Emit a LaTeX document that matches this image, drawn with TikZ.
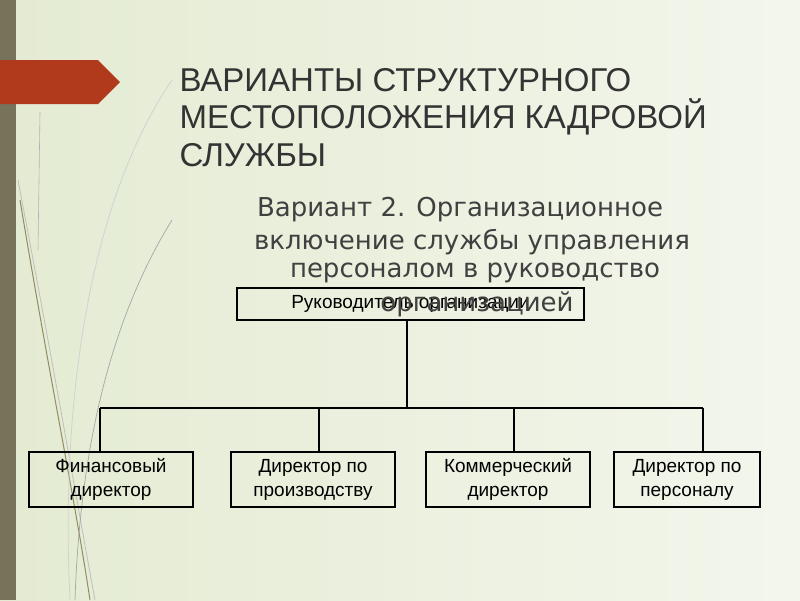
\documentclass[tikz,border=0pt]{standalone}
\usepackage{fontspec}
\setmainfont{Liberation Sans}
\newfontfamily\djfont{DejaVu Sans}
\definecolor{bgl}{HTML}{E4EBD2}
\definecolor{bgr}{HTML}{F3F6EC}
\definecolor{arr}{HTML}{B23A1C}
\definecolor{bar}{HTML}{77735A}
\begin{document}
\begin{tikzpicture}[x=1pt,y=-1pt,
  bx/.style={draw=black,line width=1.5pt,align=center,inner sep=0pt,font=\fontsize{19}{24}\selectfont},
  ln/.style={line width=1.5pt},
  tl/.style={anchor=west,font=\fontsize{33}{37}\selectfont,text=black!80},
  st/.style={font=\djfont\fontsize{26}{30}\selectfont,text=black!75}]
\useasboundingbox (0,0) rectangle (800,600);
\shade[left color=bgl, right color=bgr] (0,0) rectangle (800,600);
\fill[bar] (0,0) rectangle (16,600);
\fill[arr] (0,60) -- (98,60) -- (120,82) -- (98,104) -- (0,104) -- cycle;
\draw[gray!50,line width=0.8pt] (18,180) .. controls (60,400) and (80,520) .. (95,600);
\draw[gray!70!olive,line width=1pt] (20,200) .. controls (50,380) and (75,500) .. (90,600);
\draw[gray!35,line width=0.8pt] (172,80) .. controls (90,200) and (60,400) .. (70,600);
\draw[gray!70,line width=0.7pt] (172,220) .. controls (110,320) and (80,450) .. (75,600);
\draw[gray!60,line width=0.6pt] (40,112) -- (38,250);
\node[tl] (t1) at (176,80) {ВАРИАНТЫ СТРУКТУРНОГО};
\node[tl] (t2) at (176,117) {МЕСТОПОЛОЖЕНИЯ КАДРОВОЙ};
\node[tl] (t3) at (176,155) {СЛУЖБЫ};
\node[bx,minimum width=347pt,minimum height=32pt] (top) at (410.5,304) {Руководитель организации};
\node[st] (s1) at (460,210) {Вариант 2. Организационное};
\node[st] (s2) at (472,242) {включение службы управления};
\node[st] (s3) at (475,273) {персоналом в руководство};
\node[st] (s4) at (477,304) {организацией};
\node[bx,minimum width=164pt,minimum height=55pt] (b1) at (111,479.5) {Финансовый\\директор};
\node[bx,minimum width=164pt,minimum height=55pt] (b2) at (313,479.5) {Директор по\\производству};
\node[bx,minimum width=164pt,minimum height=55pt] (b3) at (508,479.5) {Коммерческий\\директор};
\node[bx,minimum width=146pt,minimum height=55pt] (b4) at (687,479.5) {Директор по\\персоналу};
\coordinate (j) at (407,408);
\draw[ln] (top.south -| j) -- (j);
\draw[ln] (100,408) coordinate (l) -- (703,408) coordinate (r);
\draw[ln] (l) -- (l |- b1.north);
\draw[ln] (319,408) -- (319,452);
\draw[ln] (514,408) -- (514,452);
\draw[ln] (r) -- (r |- b4.north);
\end{tikzpicture}
\end{document}
